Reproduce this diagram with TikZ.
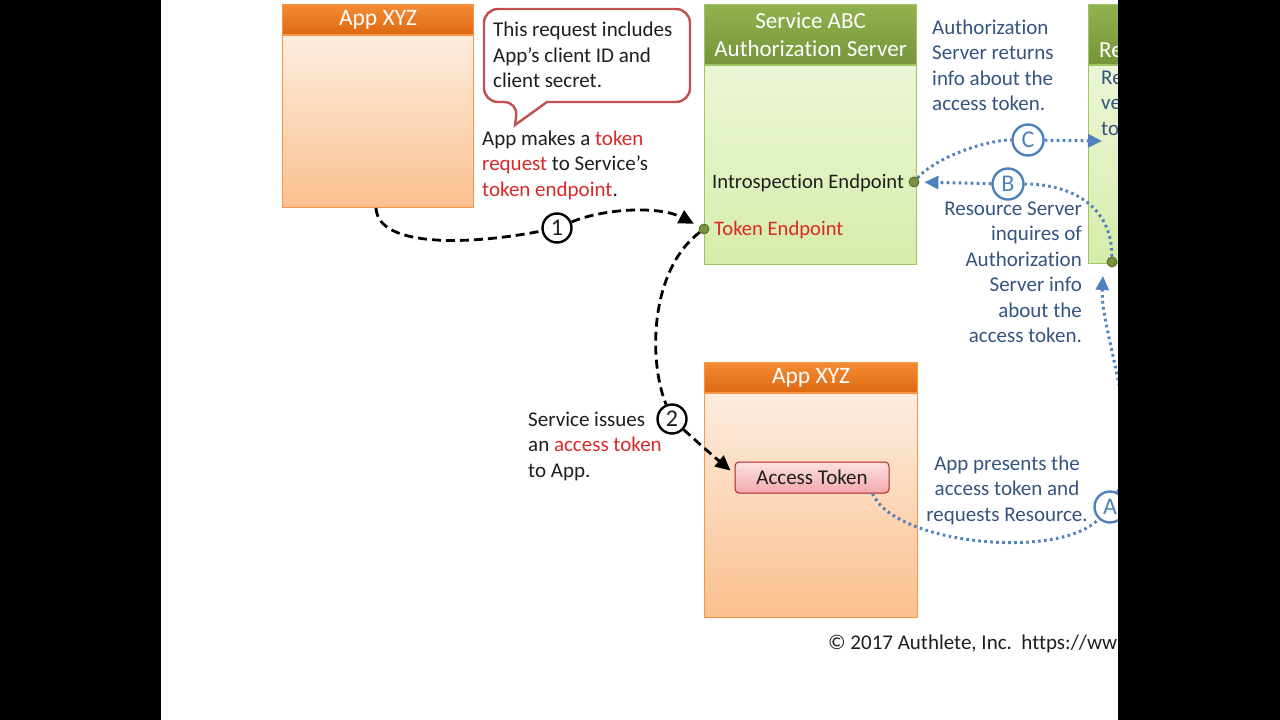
\documentclass[tikz,border=0pt]{standalone}
\usepackage{fontspec}
\setmainfont[Ligatures={TeX,NoCommon}]{Carlito}
\usetikzlibrary{positioning, calc, arrows.meta}

\definecolor{hdorangeA}{RGB}{243,140,52}
\definecolor{hdorangeB}{RGB}{222,104,18}
\definecolor{bdorangeA}{RGB}{253,236,222}
\definecolor{bdorangeB}{RGB}{250,192,142}
\definecolor{boxorange}{RGB}{245,150,72}
\definecolor{hdgreenA}{RGB}{146,178,78}
\definecolor{hdgreenB}{RGB}{118,148,58}
\definecolor{bdgreenA}{RGB}{236,246,214}
\definecolor{bdgreenB}{RGB}{214,236,170}
\definecolor{boxgreen}{RGB}{160,196,96}
\definecolor{dotgreen}{RGB}{120,146,62}
\definecolor{tokred}{RGB}{218,40,40}
\definecolor{calloutred}{RGB}{192,80,77}
\definecolor{tokfillA}{RGB}{252,226,226}
\definecolor{tokfillB}{RGB}{242,168,172}
\definecolor{flowblue}{RGB}{79,129,189}
\definecolor{notetext}{RGB}{52,84,128}
\definecolor{bodytext}{RGB}{30,30,30}

\newcommand{\redtxt}[1]{\textcolor{tokred}{#1}}

\begin{document}
\begin{tikzpicture}[x=1pt, y=-1pt,
    every node/.style={inner sep=0pt, font=\fontsize{21}{25.5}\selectfont, text=bodytext},
    orangehd/.style={draw=boxorange, line width=1.2pt, top color=hdorangeA, bottom color=hdorangeB,
        text=white, font=\fontsize{23.5}{28}\selectfont},
    orangebody/.style={draw=boxorange, line width=1.2pt, top color=bdorangeA, bottom color=bdorangeB},
    greenhd/.style={draw=boxgreen, line width=1.2pt, top color=hdgreenA, bottom color=hdgreenB,
        text=white, align=center, font=\fontsize{23}{28}\selectfont},
    greenbody/.style={draw=boxgreen, line width=1.2pt, top color=bdgreenA, bottom color=bdgreenB},
    epdot/.style={circle, draw=dotgreen!70!black, fill=dotgreen, line width=0.8pt, minimum size=10pt},
    tokbox/.style={draw=tokred!80!black, line width=1pt, rounded corners=4pt,
        top color=tokfillA, bottom color=tokfillB, font=\fontsize{21}{24}\selectfont},
    stepnum/.style={circle, draw=black, fill=white, line width=2.4pt, minimum size=29pt,
        font=\fontsize{24}{24}\selectfont},
    stepltr/.style={circle, draw=flowblue, fill=white, line width=2.4pt, minimum size=31pt,
        text=flowblue, font=\fontsize{24}{24}\selectfont},
    note/.style={text=notetext},
    blackdash/.style={line width=2.8pt, dash pattern=on 9pt off 5pt, black},
    bluedot/.style={line width=3pt, dash pattern=on 2.6pt off 3.4pt, flowblue},
    blackhead/.style={-{Triangle[length=15pt, width=14pt]}},
    bluehead/.style={-{Triangle[length=14pt, width=13pt]}}
]
\useasboundingbox (0,0) rectangle (1280,720);

% App XYZ (top)
\node[orangehd, minimum width=191pt, minimum height=30pt, anchor=north west] (appTopHd) at (282,4) {App XYZ};
\node[orangebody, minimum width=191pt, minimum height=172pt, below=0pt of appTopHd] (appTop) {};

% Callout
\draw[calloutred, line width=2.4pt, fill=white, rounded corners=14pt]
    (547,102) -- (690,102) -- (690,9) -- (484,9) -- (484,102) -- (518,102)
    [sharp corners] -- (515,125) -- cycle;
\node[anchor=north west, align=left] (calloutTxt) at (493,22)
    {This request includes\\App’s client ID and\\client secret.};

% Step 1 text
\node[anchor=north west, align=left] (reqNote) at (482,130.5)
    {App makes a \redtxt{token}\\\redtxt{request} to Service’s\\\redtxt{token endpoint}.};

% Service ABC Authorization Server
\node[greenhd, minimum width=212pt, minimum height=60pt, anchor=north west] (authHd) at (704,4)
    {Service ABC\\Authorization Server};
\node[greenbody, minimum width=212pt, minimum height=199pt, below=0pt of authHd] (auth) {};
\node[anchor=base west, font=\fontsize{20.6}{25}\selectfont] (introTxt) at (712,188) {Introspection Endpoint};
\node[anchor=base west, text=tokred, font=\fontsize{20.6}{25}\selectfont] (tokTxt) at (714,235) {Token Endpoint};
\node[epdot] (introEp) at (914,182) {};
\node[epdot] (tokEp) at (704,229) {};

% Resource Server (cut by the right bar)
\node[greenhd, minimum width=200pt, minimum height=60pt, anchor=north west] (resHd) at (1088,4) {};
\node[greenbody, minimum width=200pt, minimum height=198pt, below=0pt of resHd] (res) {};
\node[anchor=west, text=white, font=\fontsize{23}{28}\selectfont] (resHdTxt) at (1099,50) {Re};
\node[anchor=north west, align=left, note] (resTxt) at (1101,70.5) {Re\\ve\\to};
\node[epdot] (resEp) at (1112,262) {};

% App XYZ (bottom)
\node[orangehd, minimum width=213pt, minimum height=30pt, anchor=north west] (appBotHd) at (704,362) {App XYZ};
\node[orangebody, minimum width=213pt, minimum height=224pt, below=0pt of appBotHd] (appBot) {};
\node[tokbox, minimum width=154pt, minimum height=31pt] (accTok) at (812,477.5) {Access Token};

% Step 2 text
\node[anchor=north west, align=left] (issueNote) at (528,411.5)
    {Service issues\\an \redtxt{access token}\\to App.};

% Blue notes
\node[note, anchor=north west, align=left] (returnNote) at (932,19.5)
    {Authorization\\Server returns\\info about the\\access token.};
\node[note, anchor=north east, align=right] (inquireNote) at (1082,201.5)
    {Resource Server\\inquires of\\Authorization\\Server info\\about the\\access token.};
\node[note, anchor=north, align=center] (presentNote) at (1007,455.5)
    {App presents the\\access token and\\requests Resource.};

% Step markers
\node[stepnum] (s1) at (557,228) {1};
\node[stepnum] (s2) at (672,419) {2};
\node[stepltr] (sA) at (1110,507) {A};
\node[stepltr] (sB) at (1008,184) {B};
\node[stepltr] (sC) at (1028,140) {C};

% Flow 1 and 2
\coordinate (a1Start) at (376,208);
\coordinate (a2End) at ($(accTok.west)+(-4,-7)$);
\draw[blackdash] (a1Start) .. controls (378,248) and (470,245) .. (s1);
\draw[blackdash, blackhead, shorten >=6pt] (s1) .. controls (605,208) and (660,206) .. (tokEp);
\draw[blackdash] (tokEp) .. controls (650,270) and (648,360) .. (s2);
\draw[blackdash, blackhead] (s2) .. controls (695,440) and (712,455) .. (a2End);

% Flow A, B, C
\coordinate (aEnd) at (1103,276);
\coordinate (cEnd) at (1102,141);
\draw[bluedot] ([xshift=-17pt]accTok.south east) .. controls (895,545) and (1060,560) .. (sA);
\draw[bluedot, bluehead] (sA) .. controls (1145,440) and (1100,330) .. (aEnd);
\draw[bluedot] (resEp) .. controls (1112,205) and (1070,184) .. (sB);
\draw[bluedot, bluehead, shorten >=5pt] (sB) -- (introEp);
\draw[bluedot] (introEp) .. controls (935,158) and (985,140) .. (sC);
\draw[bluedot, bluehead] (sC) -- (cEnd);

% Copyright
\node[anchor=base west] (copy) at (828,649) {© 2017 Authlete, Inc.\ \ https://ww};

% Side bars
\fill[black] (0,0) rectangle (161,720);
\fill[black] (1118,0) rectangle (1280,720);

\end{tikzpicture}
\end{document}
